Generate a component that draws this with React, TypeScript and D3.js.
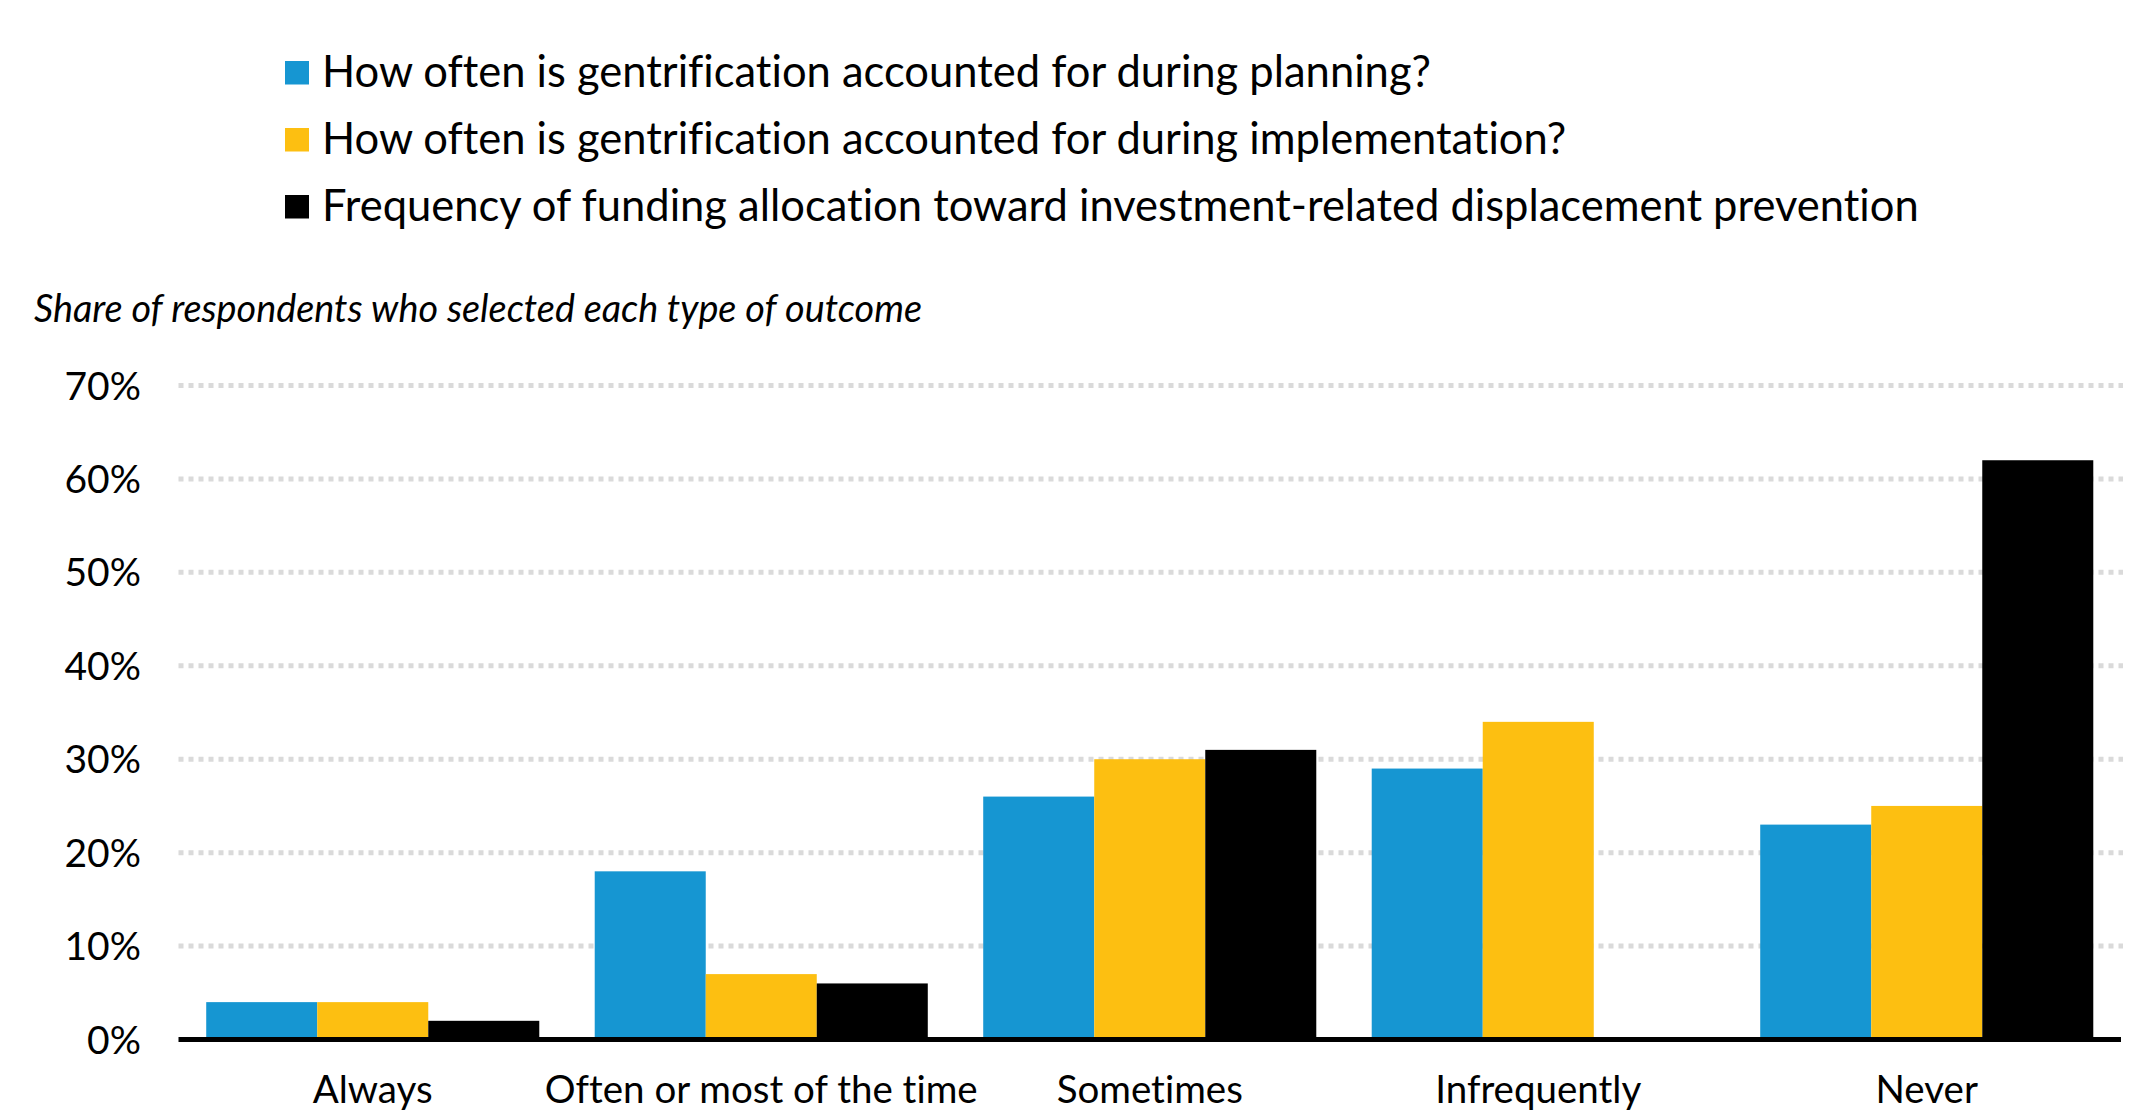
import { useMemo } from 'react';
import * as d3 from 'd3';

const WIDTH = 2145;
const HEIGHT = 1112;
const MARGIN = { top: 385.5, right: 24, bottom: 72.5, left: 178.5 };
const GROUP_PADDING = 0.1427;

const categories = ['Always', 'Often or most of the time', 'Sometimes', 'Infrequently', 'Never'];
const seriesNames = [
    'How often is gentrification accounted for during planning?',
    'How often is gentrification accounted for during implementation?',
    'Frequency of funding allocation toward investment-related displacement prevention',
];
const seriesColors = ['#1696d2', '#fdbf11', '#000000'];
const planning = [4, 18, 26, 29, 23];
const implementation = [4, 7, 30, 34, 25];
const funding = [2, 6, 31, 0, 62];
const yTicks = [0, 10, 20, 30, 40, 50, 60, 70];
const subtitle = 'Share of respondents who selected each type of outcome';

const FONT = 'Lato, "Open Sans", sans-serif';
const NO_LIGA = { fontVariantLigatures: 'none' as const, fontKerning: 'normal' as const };

export default function App() {
    const boundsWidth = WIDTH - MARGIN.left - MARGIN.right;
    const boundsBottom = HEIGHT - MARGIN.bottom; // baseline of the axis

    const series = [planning, implementation, funding];

    const xScale = useMemo(
        () =>
            d3
                .scaleBand()
                .domain(categories)
                .range([MARGIN.left, MARGIN.left + boundsWidth])
                .paddingInner(GROUP_PADDING)
                .paddingOuter(GROUP_PADDING / 2),
        [boundsWidth]
    );

    const innerScale = useMemo(
        () => d3.scaleBand().domain(seriesNames).range([0, xScale.bandwidth()]).padding(0),
        [xScale]
    );

    const yScale = useMemo(
        () => d3.scaleLinear().domain([0, 70]).range([boundsBottom, MARGIN.top]),
        [boundsBottom]
    );

    // bars
    const bars = categories.map((cat, ci) => {
        const x0 = xScale(cat);
        if (x0 === undefined) return null;
        return (
            <g key={cat}>
                {seriesNames.map((name, si) => {
                    const v = series[si][ci];
                    if (!v) return null;
                    return (
                        <rect
                            key={name}
                            x={x0 + (innerScale(name) ?? 0)}
                            y={yScale(v)}
                            width={innerScale.bandwidth()}
                            height={yScale(0) - yScale(v)}
                            fill={seriesColors[si]}
                        />
                    );
                })}
            </g>
        );
    });

    const gridLines = yTicks
        .filter((t) => t > 0)
        .map((t) => (
            <line
                key={t}
                x1={MARGIN.left}
                x2={MARGIN.left + boundsWidth + 2}
                y1={yScale(t)}
                y2={yScale(t)}
                stroke="#dadada"
                strokeWidth={5}
                strokeDasharray="5 5"
            />
        ));

    const yLabels = yTicks.map((t) => (
        <text
            key={t}
            x={141}
            y={yScale(t) + 14}
            textAnchor="end"
            fontSize={39}
            fontFamily={FONT}
            fill="#000"
        >
            {`${t}%`}
        </text>
    ));

    const xLabels = categories.map((cat) => (
        <text
            key={cat}
            x={(xScale(cat) ?? 0) + xScale.bandwidth() / 2}
            y={1103}
            textAnchor="middle"
            fontSize={38.5}
            fontFamily={FONT}
            fill="#000"
            style={NO_LIGA}
        >
            {cat}
        </text>
    ));

    const legend = seriesNames.map((name, i) => (
        <g key={name} transform={`translate(285, ${61 + i * 67})`}>
            <rect x={0} y={0} width={24} height={23.5} fill={seriesColors[i]} />
            <text x={37} y={25.7} fontSize={43.5} fontFamily={FONT} fill="#000" style={NO_LIGA}>
                {name}
            </text>
        </g>
    ));

    return (
        <div style={{ position: 'absolute', left: 0, top: 0, background: '#fff' }}>
            <svg width={WIDTH} height={HEIGHT} viewBox={`0 0 ${WIDTH} ${HEIGHT}`}>
                <rect width={WIDTH} height={HEIGHT} fill="#fff" />
                {legend}
                <text
                    x={34}
                    y={321.5}
                    fontSize={37.8}
                    fontStyle="italic"
                    fontFamily={FONT}
                    fill="#000"
                    style={NO_LIGA}
                >
                    {subtitle}
                </text>
                {gridLines}
                {yLabels}
                {bars}
                <line
                    x1={MARGIN.left}
                    x2={MARGIN.left + boundsWidth}
                    y1={yScale(0)}
                    y2={yScale(0)}
                    stroke="#000"
                    strokeWidth={5}
                />
                {xLabels}
            </svg>
        </div>
    );
}
